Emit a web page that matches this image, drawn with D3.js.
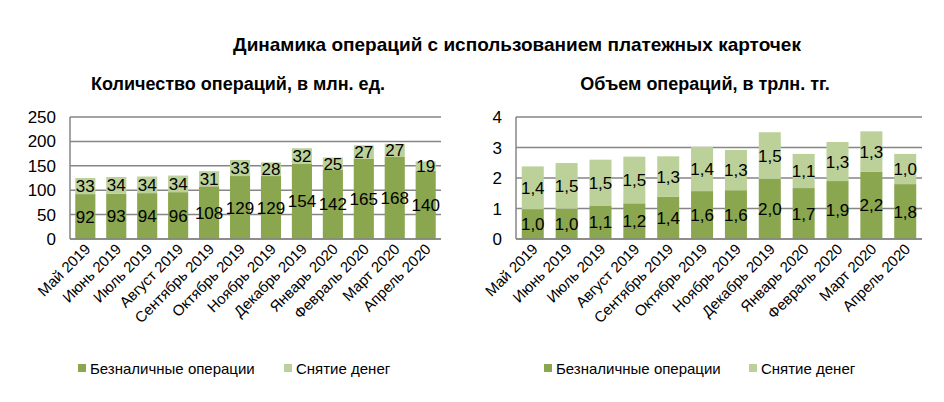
<!DOCTYPE html>
<html><head><meta charset="utf-8">
<script src="https://cdn.jsdelivr.net/npm/d3@7"></script>
<style>body{margin:0;background:#fff}text{font-family:"Liberation Sans",Arial,sans-serif}</style>
</head><body><svg id="c" width="944" height="402"></svg>
<script>
const months=["Май 2019","Июнь 2019","Июль 2019","Август 2019","Сентябрь 2019","Октябрь 2019","Ноябрь 2019","Декабрь 2019","Январь 2020","Февраль 2020","Март 2020","Апрель 2020"];
const countCashless=[92,93,94,96,108,129,129,154,142,165,168,140];
const countCash=[33,34,34,34,31,33,28,32,25,27,27,19];
const volCashless=[0.98,0.99,1.1,1.17,1.38,1.57,1.6,1.97,1.67,1.9,2.2,1.8];
const volCash=[1.4,1.5,1.5,1.53,1.33,1.45,1.32,1.53,1.12,1.28,1.33,0.99];
const countTicks=[0,50,100,150,200,250];
const volTicks=[0,1,2,3,4];
const seriesNames=["Безналичные операции","Снятие денег"];
const C1="#8aa64f",C2="#bcd19a";
const svg=d3.select("#c");
svg.append("text").attr("x",517).attr("y",51).attr("text-anchor","middle").attr("font-weight","bold").attr("font-size",19).text("Динамика операций с использованием платежных карточек");

function chart(x0,x1,max,ticks,a,b,fmt,title,tx,lx){
  const y=d3.scaleLinear().domain([0,max]).range([239,117]);
  const x=d3.scaleBand().domain(months).range([x0,x1]).paddingInner(0.35).paddingOuter(0.17);
  svg.append("text").attr("x",tx).attr("y",90).attr("text-anchor","middle").attr("font-weight","bold").attr("font-size",18).text(title);
  const g=svg.append("g");
  ticks.forEach(t=>{g.append("line").attr("x1",x0).attr("x2",x1).attr("y1",y(t)).attr("y2",y(t)).attr("stroke","#868686").attr("stroke-width",1.5);
    g.append("text").attr("x",x0-14).attr("y",y(t)+6).attr("text-anchor","end").attr("font-size",17).text(t);});
  g.append("line").attr("x1",x0).attr("x2",x0).attr("y1",y(max)).attr("y2",y(0)).attr("stroke","#868686").attr("stroke-width",1.5);
  months.forEach((m,i)=>{
    const bx=x(m),w=x.bandwidth();
    g.append("rect").attr("x",bx).attr("width",w).attr("y",y(a[i])).attr("height",y(0)-y(a[i])).attr("fill",C1);
    g.append("rect").attr("x",bx).attr("width",w).attr("y",y(a[i]+b[i])).attr("height",y(a[i])-y(a[i]+b[i])).attr("fill",C2);
    g.append("text").attr("x",bx+w/2).attr("y",y(a[i]/2)+6).attr("text-anchor","middle").attr("font-size",17).text(fmt(a[i]));
    g.append("text").attr("x",bx+w/2).attr("y",y(a[i]+b[i]/2)+6).attr("text-anchor","middle").attr("font-size",17).text(fmt(b[i]));
    g.append("text").attr("transform",`translate(${bx+w/2+6},${250}) rotate(-45)`).attr("text-anchor","end").attr("font-size",15).text(m);
  });
  g.append("line").attr("x1",x0).attr("x2",x1).attr("y1",y(0)).attr("y2",y(0)).attr("stroke","#868686").attr("stroke-width",1.5);
  [C1,C2].forEach((c,k)=>{
    const px=lx[k];
    g.append("rect").attr("x",px).attr("y",364).attr("width",8).attr("height",8).attr("fill",c);
    g.append("text").attr("x",px+12).attr("y",374).attr("font-size",15).text(seriesNames[k]);
  });
}
chart(70,441,250,countTicks,countCashless,countCash,d=>Math.round(d),"Количество операций, в млн. ед.",238,[78,284]);
chart(516,922,4,volTicks,volCashless,volCash,d=>d3.format(".1f")(d).replace(".",","),"Объем операций, в трлн. тг.",705,[544,749]);
</script></body></html>
